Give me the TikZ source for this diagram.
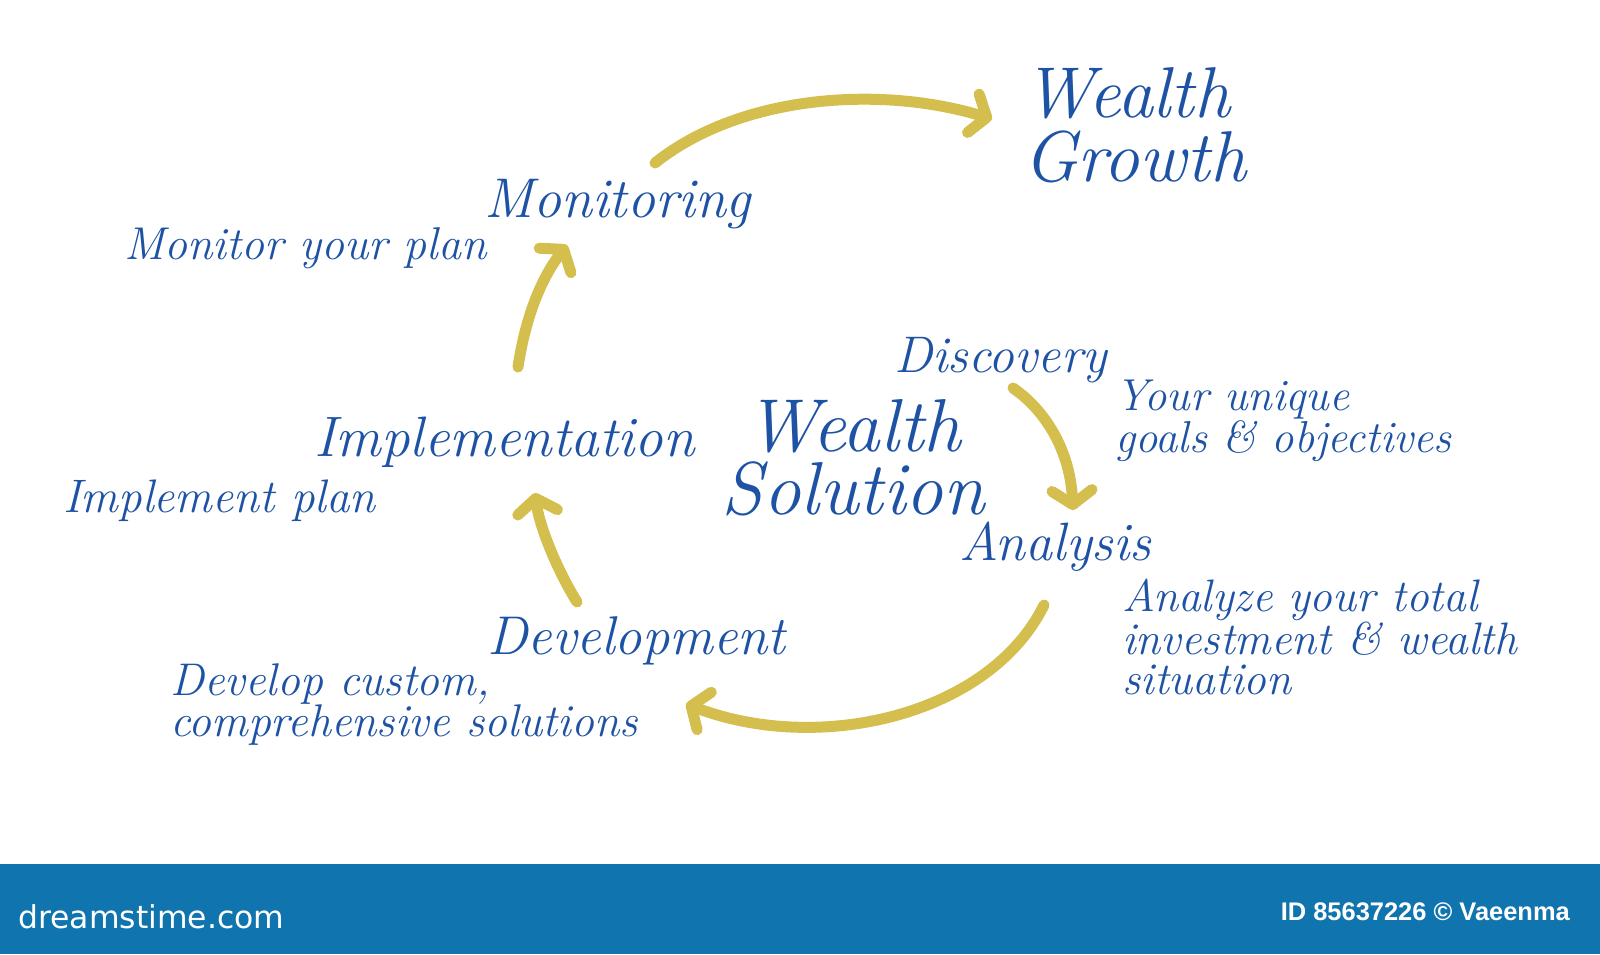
\documentclass[tikz,border=0pt]{standalone}
\usepackage{fontspec}
\usepackage{graphicx}
\usetikzlibrary{arrows.meta}
\newfontfamily\barfont{Liberation Sans}
\newfontfamily\logofont{DejaVu Sans}
\definecolor{txtblue}{RGB}{30,82,165}
\definecolor{arrowc}{RGB}{212,190,78}
\definecolor{barblue}{RGB}{16,117,174}
\tikzset{
  lbl/.style={text=txtblue, inner sep=0pt, anchor=base west, align=left, font=\itshape},
  arr/.style={draw=arrowc, line width=11pt, line cap=round,
    -{Straight Barb[length=14pt, width=40pt, line cap=round, line join=round]}}
}
\newcommand{\fs}[2]{\fontsize{#1}{#2}\selectfont}
\begin{document}
\begin{tikzpicture}[x=1pt, y=-1pt]
\useasboundingbox (0,0) rectangle (1600,954);
\fill[white] (0,0) rectangle (1600,954);
% labels (multi-line nodes: base = baseline of the last line)
\node[lbl, font=\itshape\fs{72}{64}] (wg) at (1023,181) {Wealth\\Growth};
\node[lbl, font=\itshape\fs{56}{60}] (mon) at (484,217) {Monitoring};
\node[lbl, font=\itshape\fs{46}{40}] (monp) at (124,259) {Monitor your plan};
\node[lbl, font=\itshape\fs{51.5}{50}] (disc) at (894,372) {Discovery};
\node[lbl, font=\itshape\fs{44.7}{39}] (discp) at (1115,452) {Your unique\\goals \& objectives};
\node[lbl, anchor=base, align=center, font=\itshape\fs{75}{63}] (ws) at (853,514) {Wealth\\Solution};
\node[lbl, font=\itshape\fs{57}{60}] (impl) at (314,456) {Implementation};
\node[lbl, font=\itshape\fs{47}{40}] (implp) at (63,512) {Implement plan};
\node[lbl, font=\itshape\fs{54}{50}] (ana) at (959,560) {Analysis};
\node[lbl, font=\itshape\fs{45.5}{40}] (anap) at (1122,694) {Analyze your total\\investment \& wealth\\situation};
\node[lbl, font=\itshape\fs{54.6}{50}] (dev) at (487,654) {Development};
\node[lbl, font=\itshape\fs{45.8}{41}] (devp) at (170,736) {Develop custom,\\comprehensive solutions};
% arrow end points
\coordinate (a1s) at (655,163); \coordinate (a1e) at (992,119);
\coordinate (a2s) at (518,367); \coordinate (a2e) at (567,245);
\coordinate (a3s) at (577,602); \coordinate (a3e) at (535,493);
\coordinate (a4s) at (1044,605); \coordinate (a4e) at (686,704);
\coordinate (a5s) at (1013,388); \coordinate (a5e) at (1073,510);
\draw[arr] (a1s) .. controls (740,95) and (880,85) .. (a1e);
\draw[arr] (a2s) .. controls (525,320) and (540,280) .. (a2e);
\draw[arr] (a3s) .. controls (560,575) and (540,530) .. (a3e);
\draw[arr] (a4s) .. controls (990,715) and (820,755) .. (a4e);
\draw[arr] (a5s) .. controls (1045,410) and (1070,450) .. (a5e);
% bottom bar
\fill[barblue] (0,864) rectangle (1600,954);
\node[inner sep=0pt, anchor=base west, text=white] (logo) at (18,928)
  {\resizebox{266pt}{!}{\logofont\fontsize{30}{30}\selectfont dreamstime.com}};
\node[inner sep=0pt, anchor=base east, text=white] (credit) at (1570,920)
  {\resizebox{289pt}{!}{\barfont\bfseries\fontsize{26}{26}\selectfont ID 85637226 © Vaeenma}};
\end{tikzpicture}
\end{document}
